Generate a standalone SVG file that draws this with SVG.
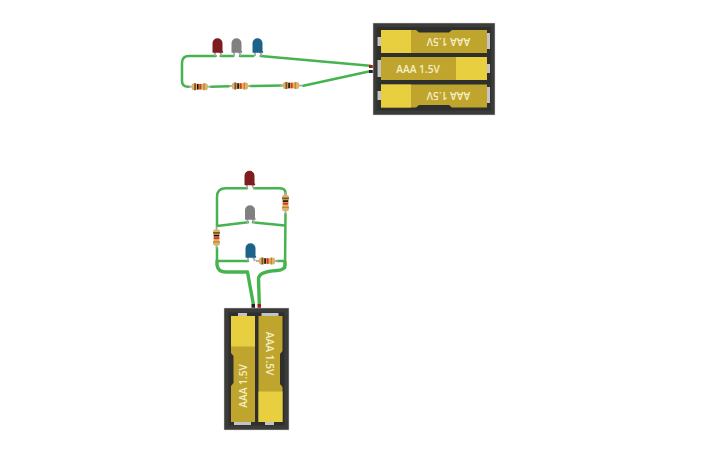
<svg xmlns="http://www.w3.org/2000/svg" width="725" height="453" viewBox="0 0 725 453">
<style>
.w{fill:none;stroke:#45b44e;stroke-width:2.500;stroke-linejoin:round;stroke-linecap:round}
.thick{stroke-width:3.400}
.lead{fill:none;stroke:#a8a8a8;stroke-width:1.800}
.rl{stroke:#a8a8a8;stroke-width:1.800}
.holder{fill:#3b3b3a;stroke:#d8d8d6;stroke-width:.5}
.inner{fill:#2f2f2e}
.bat{fill:#bfa52d}
.yel{fill:#e7cf40}
.clip{fill:#c4c4c2}
.t{font-family:"Open Sans","Noto Sans",sans-serif;font-size:10.200px;font-weight:600;fill:#f4efc4;text-anchor:middle;dominant-baseline:central}
</style>
<defs>
<g id="res">
<line class="rl" x1="-11" y1="0" x2="11" y2="0"/>
<path d="M-8 -2Q-8 -3.500 -5.500 -3.500H-4L-3 -2.800H3L4 -3.500H5.500Q8 -3.500 8 -2V2Q8 3.500 5.500 3.500H4L3 2.800H-3L-4 3.500H-5.500Q-8 3.500 -8 2Z" fill="#dab36c"/>
<rect x="-5.500" y="-3.400" width="1.800" height="6.800" fill="#855320"/>
<rect x="-2.700" y="-2.800" width="1.600" height="5.600" fill="#111"/>
<rect x="-.3" y="-2.800" width="1.900" height="5.600" fill="#ee2c18"/>
<rect x="3.700" y="-3.400" width="1.300" height="6.800" fill="#b98a2a"/>
</g>
<g id="led">
<path class="lead" d="M-2.500 8L-2.500 12M2.500 8L4.500 12"/>
</g>
<path id="body" d="M-5 8.700V-.7A5 5 0 0 1 5 -.7V6.800Q5.700 7 5.700 8.700Z"/>
</defs>
<g id="connectors">
<path class="w" d="M370 65.700L260.700 56M253.300 56H240M233.300 56H220.700M215.700 56H189Q182 56 182 63V81Q182 86.700 188 86.700H189M210.700 86.700L229 86.300M250 86L281.700 85.500M303.300 85.700L370 71.300"/>
<path class="w" d="M254 188.300H279Q285.500 188.300 285.500 193V194M285.500 214L285 268M247 188.300H226Q217 188.300 217 197V226M217 248V261M217 226L248 222.300M253 222.300L285 225.500M217 261H248M277 261H285"/>
<path class="w thick" d="M217 261V265Q218 272 226 272H247.500L253.300 304M285 262V265Q285 270 277 270.500Q258.500 271.500 258.500 279L259.300 304"/>
</g>
<g id="led1"><use href="#led" x="217.500" y="44"/><use href="#body" x="217.500" y="44" fill="#7e1c1e"/></g>
<g id="led2"><use href="#led" x="236.500" y="44"/><use href="#body" x="236.500" y="44" fill="#808080"/></g>
<g id="led3"><use href="#led" x="257.500" y="44"/><use href="#body" x="257.500" y="44" fill="#1d6288"/></g>
<g id="r1"><use href="#res" x="199.700" y="86.700"/></g>
<g id="r2"><use href="#res" x="240" y="86"/></g>
<g id="r3"><use href="#res" x="291" y="85.500"/></g>
<g id="led4"><use href="#led" x="249.500" y="176.500"/><use href="#body" x="249.500" y="176.500" fill="#7e1c1e"/></g>
<g id="led5"><use href="#led" x="250" y="211"/><use href="#body" x="250" y="211" fill="#808080"/></g>
<g id="led6"><use href="#led" x="250.500" y="249"/><use href="#body" x="250.500" y="249" fill="#1d6288"/></g>
<g id="r4"><use href="#res" transform="translate(285.500 203) rotate(90)"/></g>
<g id="r5"><use href="#res" transform="translate(216.500 237.500) rotate(90)"/></g>
<g id="r6"><use href="#res" x="267" y="261"/></g>
<g id="holder1">
<rect x="369" y="65" width="5" height="3" fill="#a31d1d"/><rect x="369" y="70" width="5" height="3" fill="#222"/>
<rect class="holder" x="373" y="23" width="122" height="92"/>
<rect class="inner" x="376.500" y="27" width="114.500" height="83.500"/>
<rect class="clip" x="377.500" y="37" width="3.500" height="9"/><rect class="clip" x="487" y="33" width="3" height="16"/>
<rect class="clip" x="377.500" y="60" width="3.500" height="17"/><rect class="clip" x="487" y="64" width="3" height="9"/>
<rect class="clip" x="377.500" y="91" width="3.500" height="9"/><rect class="clip" x="487" y="87" width="3" height="16"/>
<path class="bat" d="M381 30H416L419 32.500H449L452 30H487V53H381Z"/>
<rect class="yel" x="381" y="30" width="30" height="23"/>
<text class="t" transform="translate(448.500 42) rotate(180)">AAA 1.5V</text>
<rect class="bat" x="381" y="57" width="106" height="23"/>
<rect class="yel" x="456" y="57" width="31" height="23"/>
<text class="t" x="418" y="68.500">AAA 1.5V</text>
<path class="bat" d="M381 84.500H487V107.500H452L449 105H419L416 107.500H381Z"/>
<rect class="yel" x="381" y="84.500" width="30" height="23"/>
<text class="t" transform="translate(448.500 96) rotate(180)">AAA 1.5V</text>
</g>
<g id="holder2">
<rect x="251.500" y="304" width="3.500" height="5" fill="#222"/><rect x="257.500" y="304" width="3.500" height="5" fill="#a31d1d"/>
<rect class="holder" x="224" y="308" width="65" height="122"/>
<rect class="inner" x="228.500" y="312.500" width="56" height="113"/>
<rect class="clip" x="238" y="313" width="9" height="3"/><rect class="clip" x="261.500" y="313" width="17" height="3"/>
<rect class="clip" x="234" y="422" width="17" height="3"/><rect class="clip" x="265" y="422" width="9" height="3"/>
<path class="bat" d="M231 316H255V422H231V386L233.500 383V356L231 353Z"/>
<rect class="yel" x="231" y="316" width="24" height="30.500"/>
<text class="t" transform="translate(243.300 386) rotate(-90)">AAA 1.5V</text>
<path class="bat" d="M258.500 316H282.500V351L280 354V384L282.500 387V422H258.500Z"/>
<rect class="yel" x="258.500" y="391.500" width="24" height="30.500"/>
<text class="t" transform="translate(270 353.500) rotate(90)">AAA 1.5V</text>
</g>
</svg>
